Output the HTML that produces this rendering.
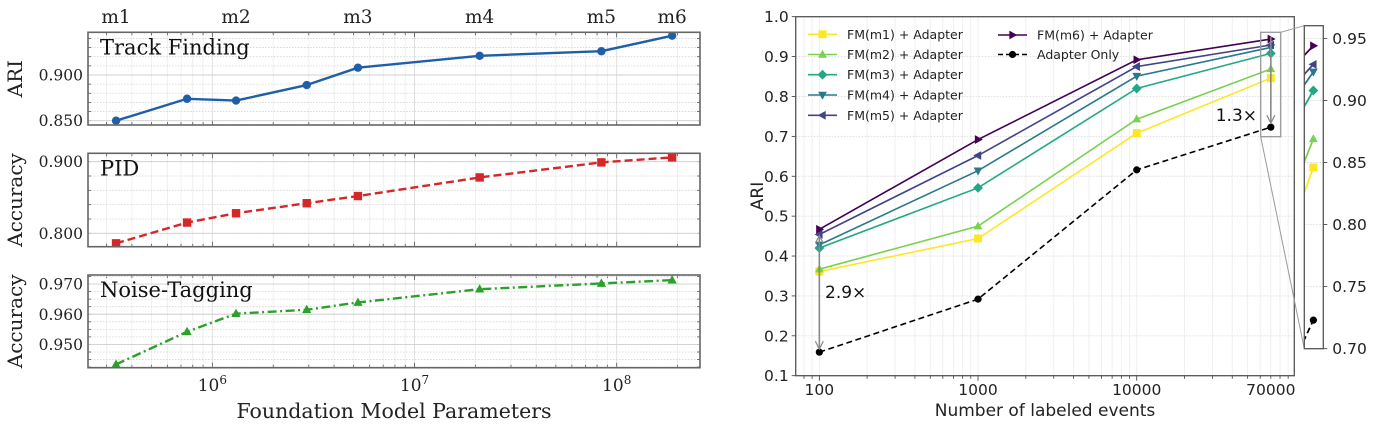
<!DOCTYPE html>
<html><head><meta charset="utf-8">
<style>
html,body{margin:0;padding:0;background:#fff;width:1380px;height:429px;overflow:hidden;}
svg{display:block;}
.serif{font-family:"DejaVu Serif","Liberation Serif",serif;}
.sans{font-family:"DejaVu Sans","Liberation Sans",sans-serif;}
</style></head>
<body>
<svg id="fig" width="1380" height="429" viewBox="0 0 1380 429" xmlns="http://www.w3.org/2000/svg"></svg>
<script>
// ---------- LEFT chart data ----------
const params = [3.34e5, 7.5e5, 1.31e6, 2.93e6, 5.25e6, 2.1e7, 8.4e7, 1.88e8];
const modelLabels = ["m1", "", "m2", "", "m3", "m4", "m5", "m6"];
const trackARI = [0.850, 0.874, 0.872, 0.889, 0.908, 0.921, 0.926, 0.943];
const pidAcc = [0.786, 0.815, 0.828, 0.842, 0.852, 0.878, 0.899, 0.906];
const noiseAcc = [0.9434, 0.9542, 0.9602, 0.9615, 0.9639, 0.9683, 0.9702, 0.9713];
const trackTicks = [0.850, 0.900];
const pidTicks = [0.800, 0.900];
const noiseTicks = [0.950, 0.960, 0.970];
const xDecades = [6, 7, 8];
// ---------- RIGHT chart data ----------
const events = [100, 1000, 10000, 70000];
const eventLabels = ["100", "1000", "10000", "70000"];
const seriesNames = ["FM(m1) + Adapter","FM(m2) + Adapter","FM(m3) + Adapter","FM(m4) + Adapter","FM(m5) + Adapter","FM(m6) + Adapter","Adapter Only"];
const fm1 = [0.361, 0.444, 0.708, 0.846];
const fm2 = [0.367, 0.475, 0.743, 0.869];
const fm3 = [0.420, 0.571, 0.820, 0.908];
const fm4 = [0.428, 0.614, 0.851, 0.923];
const fm5 = [0.454, 0.652, 0.875, 0.929];
const fm6 = [0.467, 0.692, 0.892, 0.944];
const adapterOnly = [0.159, 0.292, 0.616, 0.723];
const ariTicks = [0.1,0.2,0.3,0.4,0.5,0.6,0.7,0.8,0.9,1.0];
const insetTicks = [0.70,0.75,0.80,0.85,0.90,0.95];

const NS = "http://www.w3.org/2000/svg";
const fig = document.getElementById("fig");
function mk(tag, attrs, parent){
  const e = document.createElementNS(NS, tag);
  for (const k in attrs) e.setAttribute(k, attrs[k]);
  (parent||fig).appendChild(e);
  return e;
}
function txt(s, attrs, name){
  const t = mk("text", attrs);
  t.textContent = s;
  
  
  return t;
}

// ---------- LEFT ----------
const LX0 = 88, LX1 = 700, LLO = 5.385, LHI = 8.412;
const lx = v => LX0 + (Math.log10(v) - LLO) / (LHI - LLO) * (LX1 - LX0);

function marker(type, x, y, color, s, g){
  let e;
  if (type === "o") e = mk("circle", {cx:x, cy:y, r:s, fill:color}, g);
  else if (type === "s") e = mk("rect", {x:x-s, y:y-s, width:2*s, height:2*s, fill:color}, g);
  else if (type === "D") e = mk("polygon", {points:`${x},${y-s*1.3} ${x+s*1.3},${y} ${x},${y+s*1.3} ${x-s*1.3},${y}`, fill:color}, g);
  else if (type === "^") e = mk("polygon", {points:`${x},${y-s*1.2} ${x+s*1.1},${y+s*0.8} ${x-s*1.1},${y+s*0.8}`, fill:color}, g);
  else if (type === "v") e = mk("polygon", {points:`${x},${y+s*1.2} ${x+s*1.1},${y-s*0.8} ${x-s*1.1},${y-s*0.8}`, fill:color}, g);
  else if (type === "<") e = mk("polygon", {points:`${x-s*1.2},${y} ${x+s*0.8},${y-s*1.1} ${x+s*0.8},${y+s*1.1}`, fill:color}, g);
  else if (type === ">") e = mk("polygon", {points:`${x+s*1.2},${y} ${x-s*0.8},${y-s*1.1} ${x-s*0.8},${y+s*1.1}`, fill:color}, g);
  return e;
}

function leftPanel(cfg){
  const {top, bot, lo, hi, vals, ticks, minorStep, color, mtype, dash, title, ylabel, name} = cfg;
  const ly = v => bot - (v - lo) / (hi - lo) * (bot - top);
  const g = mk("g", {});
  
  
  for (let d = 5; d <= 8; d++) for (let m = 1; m < 10; m++) {
    const v = m * Math.pow(10, d); const x = lx(v);
    if (x < LX0 || x > LX1) continue;
    mk("line", {x1:x, x2:x, y1:top, y2:bot, stroke: m===1?"#dcdcdc":"#ececec", "stroke-width": m===1?0.9:0.8}, g);
    const tl = m===1?5:3;
    mk("line", {x1:x, x2:x, y1:bot, y2:bot-tl, stroke:"#555", "stroke-width":0.8}, g);
    mk("line", {x1:x, x2:x, y1:top, y2:top+tl, stroke:"#555", "stroke-width":0.8}, g);
  }
  for (let v = Math.ceil(lo/minorStep)*minorStep; v <= hi; v += minorStep) {
    const y = ly(v);
    mk("line", {x1:LX0, x2:LX1, y1:y, y2:y, stroke:"#d4d4d4", "stroke-width":0.8, "stroke-dasharray":"1.5,1.5"}, g);
    mk("line", {x1:LX0, x2:LX0+3, y1:y, y2:y, stroke:"#555", "stroke-width":0.8}, g);
    mk("line", {x1:LX1, x2:LX1-3, y1:y, y2:y, stroke:"#555", "stroke-width":0.8}, g);
  }
  ticks.forEach(t => {
    const y = ly(t);
    mk("line", {x1:LX0, x2:LX1, y1:y, y2:y, stroke:"#d0d0d0", "stroke-width":0.9}, g);
    txt(t.toFixed(3), {x:LX0-5, y:y+5.5, "text-anchor":"end", "font-size":15.5, class:"serif", fill:"#222"}, name + '-ytick');
  });
  const pts = params.map((p,i) => `${lx(p)},${ly(vals[i])}`).join(" ");
  const line = mk("polyline", {points:pts, fill:"none", stroke:color, "stroke-width":2.4, "stroke-dasharray":dash, "stroke-linejoin":"round"}, g);
  
  
  params.forEach((p,i) => {
    const m = marker(mtype, lx(p), ly(vals[i]), color, 4.2, g);
    
    
  });
  const fr = mk("rect", {x:LX0, y:top, width:LX1-LX0, height:bot-top, fill:"none", stroke:"#666", "stroke-width":1.6}, g);
  
  
  txt(title, {x:100, y:top+22, "font-size":21, class:"serif", fill:"#111"}, name + '-title');
  txt(ylabel, {x:0, y:0, "font-size":20, class:"serif", fill:"#222", "text-anchor":"middle", transform:`translate(22,${(top+bot)/2}) rotate(-90)`}, name + '-y-axis-title');
}

leftPanel({top:32.3, bot:125, lo:0.8453, hi:0.9467, vals:trackARI, ticks:trackTicks, minorStep:0.01, color:"#1f5fa8", mtype:"o", dash:"none", title:"Track Finding", ylabel:"ARI", name:"track-finding"});
leftPanel({top:153.3, bot:246.7, lo:0.7813, hi:0.9117, vals:pidAcc, ticks:pidTicks, minorStep:0.02, color:"#d62728", mtype:"s", dash:"8,4", title:"PID", ylabel:"Accuracy", name:"pid"});
leftPanel({top:275, bot:367.7, lo:0.9423, hi:0.9730, vals:noiseAcc, ticks:noiseTicks, minorStep:0.0025, color:"#2ca02c", mtype:"^", dash:"9,3.5,2,3.5", title:"Noise-Tagging", ylabel:"Accuracy", name:"noise-tagging"});

xDecades.forEach(d => {
  const t = mk("text", {x:lx(Math.pow(10,d)), y:391, "text-anchor":"middle", "font-size":17, class:"serif", fill:"#222"});
  
  
  t.textContent = "10";
  const sup = mk("tspan", {dy:-7, "font-size":12}, t);
  sup.textContent = String(d);
});
txt("Foundation Model Parameters", {x:394, y:418, "text-anchor":"middle", "font-size":20.5, class:"serif", fill:"#222"}, 'x-axis-title');
params.forEach((p,i) => {
  if (!modelLabels[i]) return;
  txt(modelLabels[i], {x:lx(p), y:23, "text-anchor":"middle", "font-size":18.5, class:"serif", fill:"#222"}, 'model-label-' + modelLabels[i]);
});

// ---------- RIGHT ----------
const RX0 = 795.7, RX1 = 1294.3, RLO = 1.851, RHI = 4.993, RT = 16.7, RB = 375.7;
const rx = v => RX0 + (Math.log10(v) - RLO) / (RHI - RLO) * (RX1 - RX0);
const ry = v => RB - (v - 0.1) / 0.9 * (RB - RT);
const rg = mk("g", {});


for (let d = 1; d <= 4; d++) for (let m = 1; m < 10; m++) {
  const v = m*Math.pow(10,d), x = rx(v);
  if (x <= RX0 || x >= RX1) continue;
  mk("line", {x1:x, x2:x, y1:RT, y2:RB, stroke:"#eeeeee", "stroke-width":0.9}, rg);
  mk("line", {x1:x, x2:x, y1:RB, y2:RB+(m===1?5:3), stroke:"#333", "stroke-width":0.8}, rg);
}
ariTicks.forEach(t => {
  const y = ry(t);
  mk("line", {x1:RX0, x2:RX1, y1:y, y2:y, stroke:"#dddddd", "stroke-width":0.9, "stroke-dasharray":"1.5,1.5"}, rg);
  mk("line", {x1:RX0-4, x2:RX0, y1:y, y2:y, stroke:"#333", "stroke-width":0.8}, rg);
  txt(t.toFixed(1), {x:RX0-7, y:y+5.5, "text-anchor":"end", "font-size":15.5, class:"sans", fill:"#222"}, 'ari-y-tick');
});
events.forEach((e,i) => {
  txt(eventLabels[i], {x:rx(e), y:395, "text-anchor":"middle", "font-size":15.5, class:"sans", fill:"#222"}, 'events-x-tick');
});
txt("Number of labeled events", {x:1045, y:416, "text-anchor":"middle", "font-size":17, class:"sans", fill:"#222"}, 'events-x-axis-title');
txt("ARI", {x:0, y:0, "text-anchor":"middle", "font-size":17, class:"sans", fill:"#222", transform:"translate(763,196) rotate(-90)"}, 'ari-y-axis-title');

const allSeries = [fm1, fm2, fm3, fm4, fm5, fm6, adapterOnly];
const colors = ["#fde725","#7ad151","#22a884","#2a788e","#414487","#440154","#000000"];
const mtypes = ["s","^","D","v","<",">","o"];
const sizes = [4,4,3.8,4,4,4,3.6];
allSeries.forEach((vals, si) => {
  const pts = events.map((e,i) => `${rx(e)},${ry(vals[i])}`).join(" ");
  const l = mk("polyline", {points:pts, fill:"none", stroke:colors[si], "stroke-width":1.6, "stroke-dasharray": si===6?"6,3.5":"none"}, rg);
  
  
  events.forEach((e,i) => {
    const m = marker(mtypes[si], rx(e), ry(vals[i]), colors[si], sizes[si], rg);
    
    
  });
});
function arrow(x, y1, y2, both, name){
  const g = mk("g", {});
  
  
  mk("line", {x1:x, x2:x, y1:y1, y2:y2, stroke:"#888", "stroke-width":1.6}, g);
  mk("polyline", {points:`${x-4},${y2-8} ${x},${y2} ${x+4},${y2-8}`, fill:"none", stroke:"#888", "stroke-width":1.2}, g);
  if (both) mk("polyline", {points:`${x-4},${y1+8} ${x},${y1} ${x+4},${y1+8}`, fill:"none", stroke:"#888", "stroke-width":1.2}, g);
}
arrow(rx(events[0]), ry(fm5[0])+1, ry(adapterOnly[0])-3, true, 'gain-arrow-100');
arrow(rx(events[3]), ry(fm6[3])-2, ry(adapterOnly[3])-4, false, 'gain-arrow-70000');
txt("2.9×", {x:825, y:298, "font-size":17, class:"sans", fill:"#111"}, 'gain-label-2-9');
txt("1.3×", {x:1257, y:121, "text-anchor":"end", "font-size":17, class:"sans", fill:"#111"}, 'gain-label-1-3');

const lg = mk("g", {});


const legPos = [[808,34.3],[808,54.5],[808,74.7],[808,95],[808,115.3],[998,35],[998,54.5]];
seriesNames.forEach((n, si) => {
  const [x,y] = legPos[si];
  const e = mk("g", {}, lg);
  
  
  mk("line", {x1:x, x2:x+29, y1:y, y2:y, stroke:colors[si], "stroke-width":1.6, "stroke-dasharray": si===6?"5,3":"none"}, e);
  marker(mtypes[si], x+14.5, y, colors[si], sizes[si], e);
  const t = mk("text", {x:x+39, y:y+4.5, "font-size":12.5, class:"sans", fill:"#222"}, e);
  t.textContent = n;
});
const rframe = mk("rect", {x:RX0, y:RT, width:RX1-RX0, height:RB-RT, fill:"none", stroke:"#555", "stroke-width":1.3}, rg);



const IX0 = 1304.3, IX1 = 1323.3, IT = 25.7, IB = 348.7, ILO = 0.70, IHI = 0.9602, IXL = 4.722, IXH = 4.98;
const ix = v => IX0 + (Math.log10(v) - IXL) / (IXH - IXL) * (IX1 - IX0);
const iy = v => IB - (v - ILO) / (IHI - ILO) * (IB - IT);
const zb = mk("rect", {x:1260.7, y:32.3, width:20, height:104.4, fill:"none", stroke:"#999", "stroke-width":1.3});


mk("line", {x1:1280.7, y1:32.3, x2:IX0, y2:IT, stroke:"#999", "stroke-width":1});
mk("line", {x1:1260.7, y1:136.7, x2:IX0, y2:IB, stroke:"#999", "stroke-width":1});
const ig = mk("g", {});


const clip = mk("clipPath", {id:"insclip"});
mk("rect", {x:IX0, y:IT, width:IX1-IX0, height:IB-IT}, clip);
insetTicks.forEach(t => {
  const y = iy(t);
  mk("line", {x1:IX0, x2:IX1, y1:y, y2:y, stroke:"#dddddd", "stroke-width":0.9, "stroke-dasharray":"1.5,1.5"}, ig);
  mk("line", {x1:IX1, x2:IX1+4, y1:y, y2:y, stroke:"#333", "stroke-width":0.8}, ig);
  txt(t.toFixed(2), {x:IX1+9, y:y+5.5, "font-size":15.5, class:"sans", fill:"#222"}, 'inset-y-tick');
});
const inner = mk("g", {"clip-path":"url(#insclip)"}, ig);
allSeries.forEach((vals, si) => {
  const pts = events.map((e,i) => `${ix(e)},${iy(vals[i])}`).join(" ");
  const l = mk("polyline", {points:pts, fill:"none", stroke:colors[si], "stroke-width":1.8, "stroke-dasharray": si===6?"6,3.5":"none"}, inner);
  
  
  const m = marker(mtypes[si], ix(events[3]), iy(vals[3]), colors[si], sizes[si], inner);
  
  
});
mk("rect", {x:IX0, y:IT, width:IX1-IX0, height:IB-IT, fill:"none", stroke:"#555", "stroke-width":1.3}, ig);
</script>
</body></html>
